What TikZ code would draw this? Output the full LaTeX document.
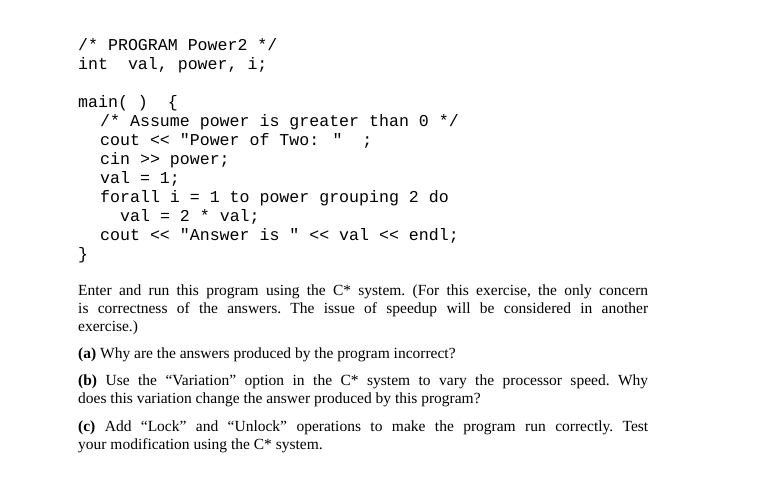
\documentclass[tikz,border=0pt]{standalone}
\usepackage{fontspec}
\setmainfont{Liberation Serif}
\newfontfamily\codefont{Liberation Mono}
\newcommand{\prosefont}{\fontsize{15.5}{18}\selectfont\hyphenpenalty=10000\frenchspacing}
\begin{document}
\begin{tikzpicture}[x=1pt,y=1pt,
  code/.style={anchor=base west,inner sep=0,font=\codefont\fontsize{16.6}{19}\selectfont},
  prose/.style={anchor=north west,inner sep=0,text width=570pt,align=justify,font={\prosefont}}]
\useasboundingbox (0,0) rectangle (761,-488);
\node[code] (c1) at (78,-50) {/* PROGRAM Power2 */};
\node[code] (c2) at (78,-69) {int\ \ val, power, i;};
\node[code] (c3) at (78,-107) {main( )\ \ \{};
\node[code] (c4) at (100,-126) {/* Assume power is greater than 0 */};
\node[code] (c5) at (100,-145) {cout << "Power of Two: "\ \ ;};
\node[code] (c6) at (100,-164) {cin >> power;};
\node[code] (c7) at (100,-183) {val = 1;};
\node[code] (c8) at (100,-202) {forall i = 1 to power grouping 2 do};
\node[code] (c9) at (120,-221) {val = 2 * val;};
\node[code] (c10) at (100,-240) {cout << "Answer is " << val << endl;};
\node[code] (c11) at (78,-259) {\}};
\node[prose] (p1) at (78,-285) {Enter and run this program using the C* system. (For this exercise, the only concern\linebreak is correctness of the answers. The issue of speedup will be considered in another\linebreak exercise.)};
\node[prose] (p2) at (78,-348) {\textbf{(a)} Why are the answers produced by the program incorrect?};
\node[prose] (p3) at (78,-375) {\textbf{(b)} Use the ``Variation'' option in the C* system to vary the processor speed. Why\linebreak does this variation change the answer produced by this program?};
\node[prose] (p4) at (78,-421) {\textbf{(c)} Add ``Lock'' and ``Unlock'' operations to make the program run correctly. Test\linebreak your modification using the C* system.};
\end{tikzpicture}
\end{document}
